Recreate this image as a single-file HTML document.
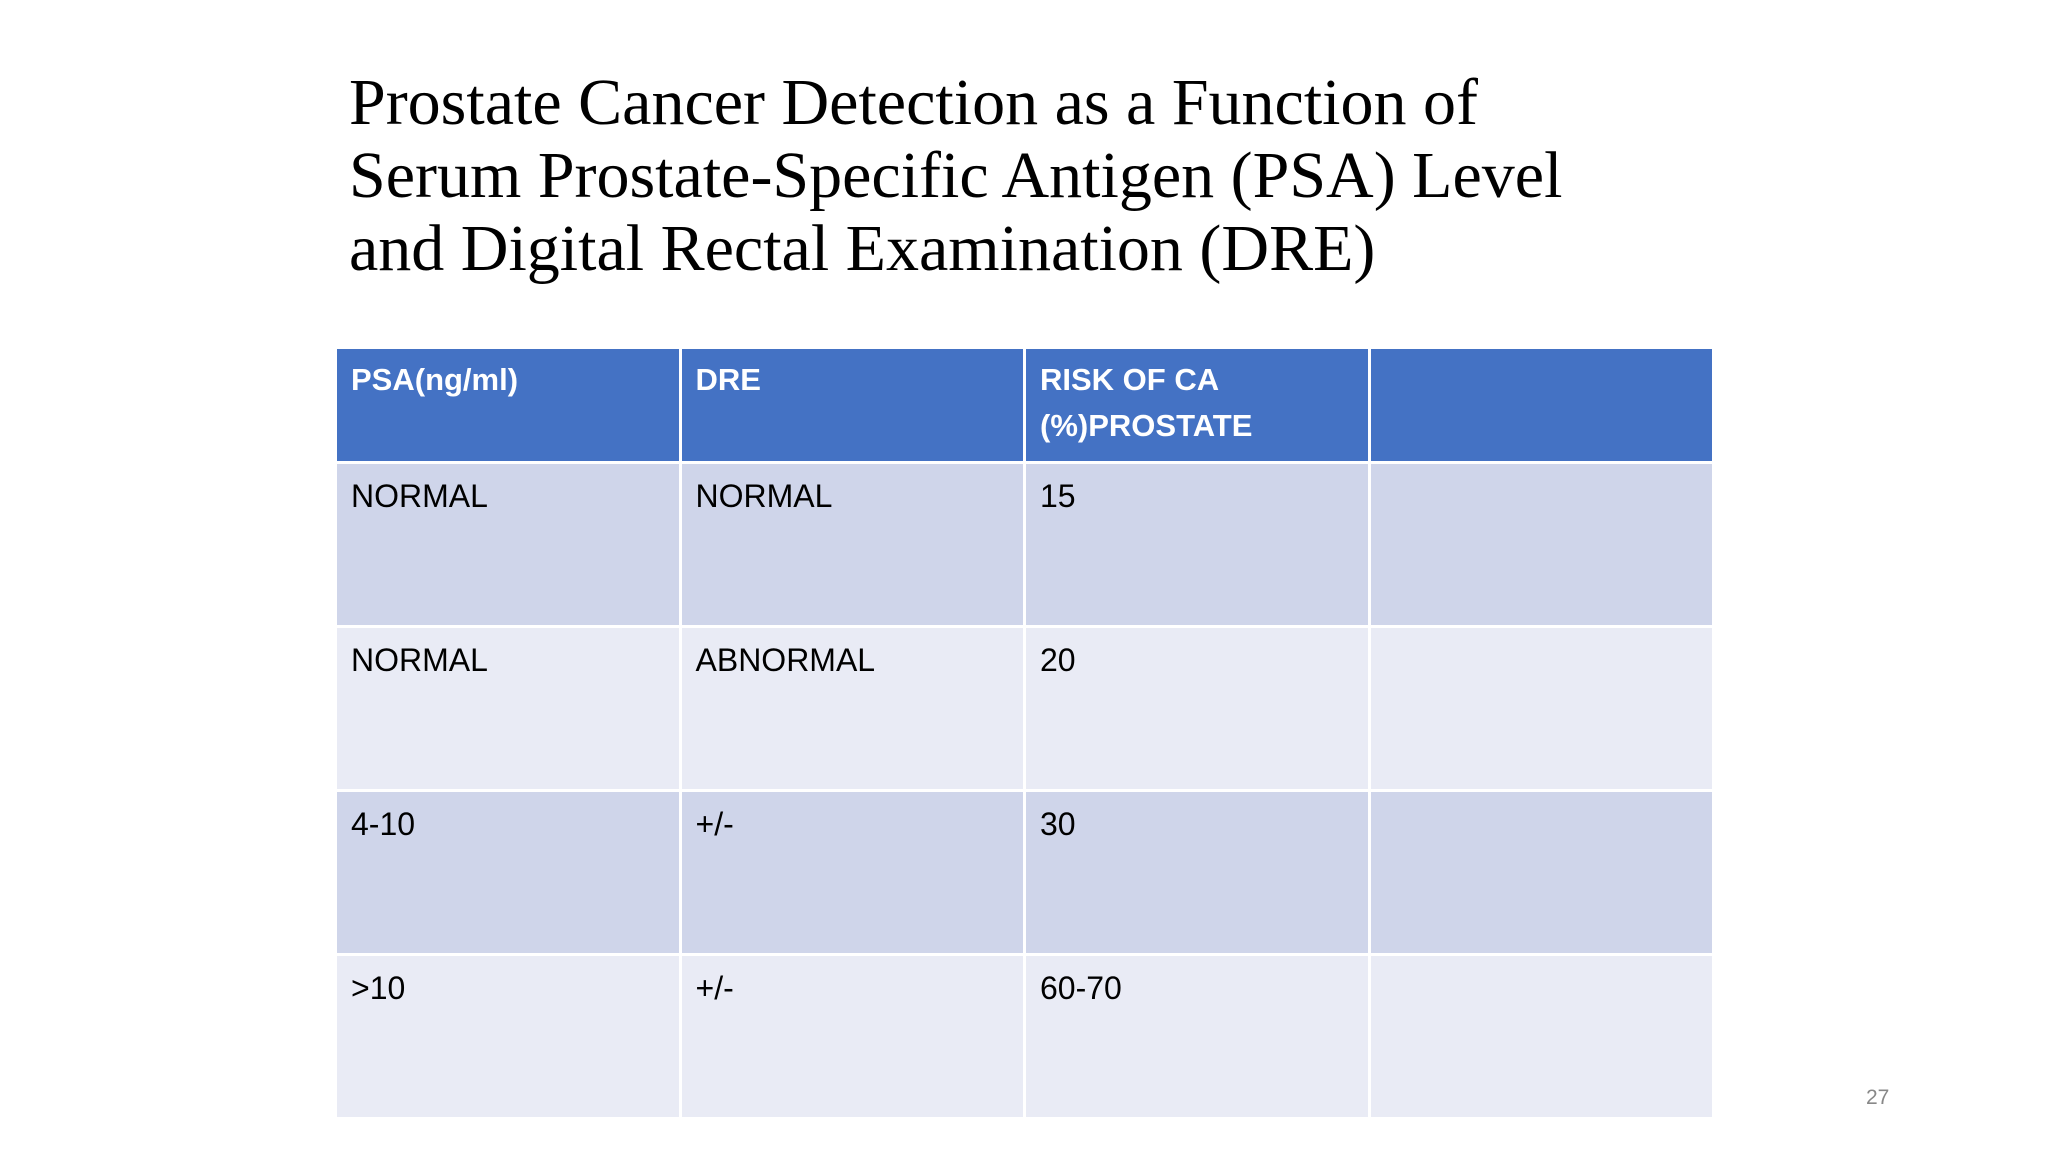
<!DOCTYPE html>
<html><head><meta charset="utf-8"><style>
body{margin:0;width:2048px;height:1152px;background:#fff;position:relative;overflow:hidden;font-family:"Liberation Sans",sans-serif}
.title{position:absolute;left:349px;top:66px;font-family:"Liberation Serif",serif;font-size:66px;line-height:73px;color:#000;margin:0;font-weight:normal}
table{position:absolute;left:334px;top:346px;width:1381px;border-collapse:collapse;table-layout:fixed}
td,th{border:3px solid #fff;vertical-align:top;text-align:left;padding:12px 14px;font-size:32px;color:#000;font-weight:normal}
th{background:#4472C4;color:#fff;font-weight:bold;height:81px;line-height:46px;padding-top:8px;font-size:31px}
tr.r td{height:137px;line-height:40px}
tr.odd td{background:#CFD5EA}
tr.even td{background:#E9EBF5}
.pg{position:absolute;left:1866px;top:1086px;font-size:21px;color:#888}
</style></head><body>
<h1 class="title">Prostate Cancer Detection as a Function of<br>Serum Prostate-Specific Antigen (PSA) Level<br>and Digital Rectal Examination (DRE)</h1>
<table>
<tr><th>PSA(ng/ml)</th><th>DRE</th><th>RISK OF CA (%)PROSTATE</th><th></th></tr>
<tr class="r odd"><td>NORMAL</td><td>NORMAL</td><td>15</td><td></td></tr>
<tr class="r even"><td>NORMAL</td><td>ABNORMAL</td><td>20</td><td></td></tr>
<tr class="r odd"><td>4-10</td><td>+/-</td><td>30</td><td></td></tr>
<tr class="r even"><td>&gt;10</td><td>+/-</td><td>60-70</td><td></td></tr>
</table>
<div class="pg">27</div>
</body></html>
